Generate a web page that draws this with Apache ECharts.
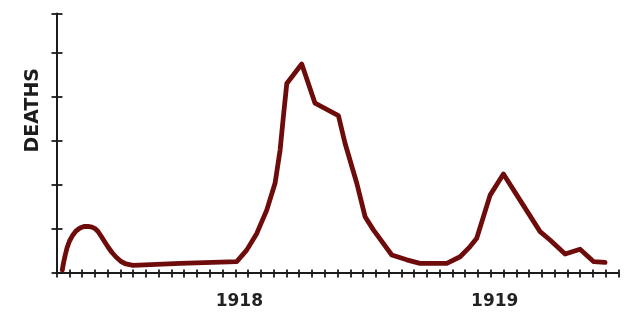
<!DOCTYPE html>
<html>
<head>
<meta charset="utf-8">
<script src="https://cdn.jsdelivr.net/npm/echarts@6/dist/echarts.min.js"></script>
<style>html,body{margin:0;padding:0;background:#fff;}#c{width:640px;height:332px;}</style>
</head>
<body>
<div id="c"></div>
<script>
// x positions in tick units (one tick per unit), y in axis-tick units
var xValues = [0.454,0.548,0.666,0.822,1.018,1.253,1.527,1.840,2.153,2.467,2.780,3.015,3.250,3.485,3.759,
  4.033,4.346,4.659,5.051,5.442,5.991,9.67,14.11,
  14.89,15.68,16.46,17.11,17.51,17.76,18.03,19.20,20.24,22.07,22.59,23.51,24.16,24.81,26.25,27.42,28.46,
  30.56,31.60,32.38,32.90,33.95,34.99,36.04,37.86,38.64,39.82,40.99,42.04,42.95];
var deaths = [0.068,0.227,0.386,0.568,0.727,0.852,0.955,1.023,1.057,1.061,1.045,1.011,0.943,0.841,0.716,
  0.591,0.466,0.364,0.261,0.205,0.175,0.22,0.26,
  0.52,0.90,1.43,2.04,2.80,3.55,4.31,4.75,3.86,3.58,2.95,2.04,1.28,0.98,0.41,0.30,0.22,
  0.22,0.37,0.60,0.79,1.77,2.25,1.77,0.94,0.75,0.43,0.54,0.26,0.24];
var yearTicks = [14, 34];
var yearLabels = ['1918', '1919'];
var yTitle = 'DEATHS';

var chart = echarts.init(document.getElementById('c'), null, {renderer: 'canvas'});
var axisColor = '#1c1c1c';
var pts = xValues.map(function (x, i) { return [x, deaths[i]]; });
function xAxisBase(extra) {
  return Object.assign({
    type: 'value', min: 0, max: 44, interval: 1,
    splitLine: {show: false},
    axisLine: {show: false, onZero: false}
  }, extra);
}
function yAxisBase(extra) {
  return Object.assign({
    type: 'value', min: 0, max: 5.9, interval: 1,
    splitLine: {show: false},
    axisLine: {show: false, onZero: false}
  }, extra);
}
chart.setOption({
  animation: false,
  backgroundColor: '#ffffff',
  grid: {left: 56.5, right: 21.5, top: 13.5, bottom: 59, containLabel: false},
  xAxis: [
    xAxisBase({
      axisLine: {show: true, onZero: false, lineStyle: {color: axisColor, width: 2}},
      axisTick: {show: true, inside: false, length: 4.5, lineStyle: {color: axisColor, width: 1.8}},
      axisLabel: {
        show: true, margin: 20, color: '#222', fontFamily: 'DejaVu Sans', fontWeight: 'bold', fontSize: 17,
        align: 'center', padding: [0, 0, 0, 8],
        formatter: function (v) {
          var i = yearTicks.indexOf(Math.round(v));
          return (i >= 0 && Math.abs(v - yearTicks[i]) < 1e-6) ? yearLabels[i] : '';
        }
      }
    }),
    xAxisBase({
      position: 'bottom',
      axisTick: {show: true, inside: true, length: 3.5, lineStyle: {color: axisColor, width: 1.8}},
      axisLabel: {show: false}
    })
  ],
  yAxis: [
    yAxisBase({
      axisLine: {show: true, onZero: false, lineStyle: {color: axisColor, width: 2}},
      axisTick: {show: true, inside: false, length: 5, lineStyle: {color: axisColor, width: 1.8}},
      axisLabel: {show: false},
      name: yTitle, nameLocation: 'middle', nameRotate: 90, nameGap: 14,
      nameTextStyle: {color: '#1c1c1c', fontFamily: 'DejaVu Sans', fontWeight: 'bold', fontSize: 19,
        padding: [0, 0, 0, 66]}
    }),
    yAxisBase({
      position: 'left',
      axisTick: {show: true, inside: true, length: 6, lineStyle: {color: axisColor, width: 1.8}},
      axisLabel: {show: false}
    })
  ],
  series: [{
    type: 'line',
    data: pts,
    xAxisIndex: 0, yAxisIndex: 0,
    showSymbol: false,
    smooth: false,
    lineStyle: {color: '#6e0c0c', width: 4.8, join: 'round', cap: 'round'},
    z: 5
  }]
});
</script>
</body>
</html>
